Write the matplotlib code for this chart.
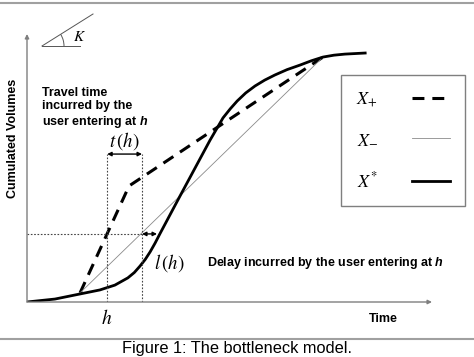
import numpy as np
import matplotlib
matplotlib.use('Agg')
import matplotlib.pyplot as plt
from matplotlib.patches import Arc

plt.rcParams['font.family'] = 'Liberation Sans'
plt.rcParams['mathtext.fontset'] = 'stix'
plt.rcParams['mathtext.it'] = 'Liberation Sans:italic:bold'   # used by math_fontfamily='custom'

# cumulated volumes (arbitrary units, axes go 0..100)
time_star = [0, 6.9, 13.1, 18.0, 21.7, 24.9, 26.5, 27.9, 29.2, 30.4, 31.6, 32.8,
             35.3, 37.8, 41.5, 45.2, 48.4, 50.2, 51.9, 54.0, 56.3, 58.7, 61.2,
             64.2, 67.4, 70.2, 73.1, 75.8, 78.5, 83.5]
vol_star = [0, 1.1, 3.0, 4.5, 6.3, 9.0, 11.0, 13.4, 15.9, 18.7, 21.9, 25.4,
            32.5, 39.6, 50.0, 60.4, 68.7, 72.1, 75.0, 78.0, 80.6, 82.8, 84.7,
            86.7, 88.4, 90.0, 91.4, 92.1, 92.5, 92.9]
time_minus = [13.1, 73.1]
vol_minus = [3.4, 91.4]
time_plus = [13.1, 25.2, 73.1]
vol_plus = [3.4, 43.3, 91.4]

h = 19.8            # entry time
t_h = 8.6           # travel time
entry_vol = 25.4    # X+(h)
delay_end = 32.1    # where X* reaches entry_vol
bracket_top = 55.2

W, H = 474, 357
fig = plt.figure(figsize=(W/100, H/100), dpi=100)

# overlay in pixel coords for decorations / free text
ov = fig.add_axes([0, 0, 1, 1])
ov.set_xlim(0, W); ov.set_ylim(H, 0); ov.axis('off')

ax = fig.add_axes([27/W, (H-302)/H, 405/W, 268/H])
ax.set_xlim(0, 100); ax.set_ylim(0, 100)
ax.axis('off')

# axis arrows
for end in [(1, 0), (0, 1)]:
    ax.annotate('', xy=end, xytext=(0, 0), xycoords='axes fraction',
                arrowprops=dict(arrowstyle='-|>', color='#7f7f7f', lw=1,
                                mutation_scale=6, shrinkA=0, shrinkB=0))

ax.plot(time_plus, vol_plus, color='black', lw=2.2, dashes=(3.9, 2.6), label=r'$X_{+}$')
ax.plot(time_minus, vol_minus, color='#8a8a8a', lw=0.6, label=r'$X_{-}$')
ax.plot(time_star, vol_star, color='black', lw=2.0, solid_joinstyle='round',
        label=r'$X^{*}$')

dot = (0, (1.5, 1.5))
ax.vlines([h, h + t_h], 0, bracket_top, colors='#444444', linestyles=dot, lw=0.8)
ax.hlines(entry_vol, 0, h + t_h, colors='#444444', linestyles=dot, lw=0.8)

ax.annotate('', xy=(h, bracket_top), xytext=(h + t_h, bracket_top),
            arrowprops=dict(arrowstyle='<|-|>', color='black', lw=1,
                            mutation_scale=6, shrinkA=0, shrinkB=0))
ax.annotate('', xy=(h + t_h, entry_vol), xytext=(delay_end, entry_vol),
            arrowprops=dict(arrowstyle='<|-|>', color='black', lw=1,
                            mutation_scale=6, shrinkA=0, shrinkB=0))
ax.text(h + t_h/2, bracket_top + 5, r'$t\,(h)$', ha='center', va='center', fontsize=13.5)
ax.text(delay_end + 3, entry_vol - 10.8, r'$l\,(h)$', ha='center', va='center', fontsize=13.5)

leg = ax.legend(loc='upper left', bbox_to_anchor=(341/W, 1 - 75/H),
                bbox_transform=fig.transFigure, markerfirst=False, fancybox=False,
                edgecolor='#7f7f7f', framealpha=1, fontsize=13, handlelength=2.1,
                handletextpad=1.9, labelspacing=1.25, borderpad=0.85, borderaxespad=0)
leg.get_frame().set_linewidth(1.0)

# texts
bold = dict(fontsize=9, fontweight='bold', math_fontfamily='custom')
ov.text(42, 108, 'Travel time\nincurred by the\nuser entering at $h$', ha='left',
        va='center', linespacing=1.15, **bold)
ov.text(207, 263, 'Delay incurred by the user entering at $h$', ha='left',
        va='center', **bold)
ov.text(383, 319, 'Time', ha='center', va='center', **bold)
ov.text(13, 138, 'Cumulated Volumes', rotation=90, ha='center', va='center', **bold)
ov.text(107, 319, '$h$', ha='center', va='center', fontsize=14)

# slope K symbol
ov.plot([42, 93], [46, 14], color='#555555', lw=0.7)
ov.plot([42, 80], [46, 46], color='#555555', lw=0.7)
ov.add_patch(Arc((42, 46), 44, 44, theta1=328, theta2=360, color='#555555', lw=0.7))
ov.text(80, 37, '$K$', ha='center', va='center', fontsize=11)

# rules and caption
ov.plot([0, W], [3, 3], color='#a0a0a0', lw=1.5)
ov.plot([0, W], [339, 339], color='#a0a0a0', lw=1.5)
ov.text(237, 348, 'Figure 1: The bottleneck model.', ha='center', va='center', fontsize=11.8)

fig.savefig('out.png', dpi=100)
